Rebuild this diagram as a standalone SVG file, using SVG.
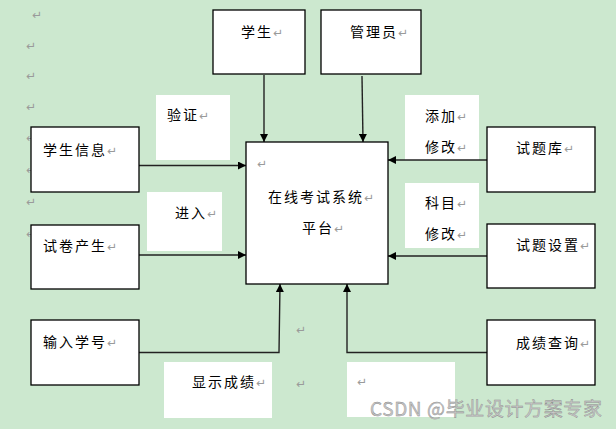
<svg xmlns="http://www.w3.org/2000/svg" width="616" height="429" viewBox="0 0 616 429">
<defs>
<style>
.box{fill:#fff;stroke:#000;stroke-width:1.3}
.lbl{fill:#fff;stroke:none}
.t{font-family:"Noto Sans CJK SC","Noto Sans",sans-serif;font-size:14px;letter-spacing:2px;fill:#000}
.r{font-family:"DejaVu Sans",sans-serif;font-size:12px;letter-spacing:0;fill:#9a9a9a}
.c{fill:none;stroke:#222;stroke-width:1.4}
.wm{font-family:"Noto Sans CJK SC","Noto Sans",sans-serif;font-size:19px;fill:#c8c8c8;stroke:#8c8c8c;stroke-width:0.4}
</style>
<marker id="ah" viewBox="0 0 10 10" refX="10" refY="5" markerWidth="8" markerHeight="8" markerUnits="userSpaceOnUse" orient="auto">
<path d="M0,0 L10,5 L0,10 Z" fill="#000"/>
</marker>
</defs>
<rect width="616" height="429" fill="#cce8cf"/>
<g id="marks">
<text class="r" x="32" y="19">↵</text>
<text class="r" x="26" y="50">↵</text>
<text class="r" x="26" y="80">↵</text>
<text class="r" x="26" y="111">↵</text>
<text class="r" x="26" y="142">↵</text>
<text class="r" x="26" y="174">↵</text>
<text class="r" x="26" y="206">↵</text>
<text class="r" x="26" y="238">↵</text>
<text class="r" x="296" y="334">↵</text>
<text class="r" x="296" y="388">↵</text>
</g>
<g id="lbl-yanzheng"><rect class="lbl" x="156" y="95" width="74" height="65"/><text class="t" x="167" y="120">验证<tspan class="r">↵</tspan></text></g>
<g id="lbl-jinru"><rect class="lbl" x="147" y="192" width="75" height="59"/><text class="t" x="175" y="218">进入<tspan class="r">↵</tspan></text></g>
<g id="lbl-tianjia"><rect class="lbl" x="405" y="95" width="74" height="65"/><text class="t" x="425" y="121">添加<tspan class="r">↵</tspan></text><text class="t" x="425" y="152">修改<tspan class="r">↵</tspan></text></g>
<g id="lbl-kemu"><rect class="lbl" x="405" y="183" width="74" height="65"/><text class="t" x="425" y="208">科目<tspan class="r">↵</tspan></text><text class="t" x="425" y="239">修改<tspan class="r">↵</tspan></text></g>
<g id="lbl-xianshi"><rect class="lbl" x="164" y="362" width="108" height="56"/><text class="t" x="192" y="387">显示成绩<tspan class="r">↵</tspan></text></g>
<g id="lbl-empty"><rect class="lbl" x="347" y="362" width="108" height="55"/><text class="r" x="357" y="386">↵</text></g>
<g id="connectors">
<path class="c" d="M264,75 V142" marker-end="url(#ah)"/>
<path class="c" d="M362,76 L363,142" marker-end="url(#ah)"/>
<path class="c" d="M139,165.5 H246" marker-end="url(#ah)"/>
<path class="c" d="M139,255 H246" marker-end="url(#ah)"/>
<path class="c" d="M487,160 H388" marker-end="url(#ah)"/>
<path class="c" d="M487,256 H388" marker-end="url(#ah)"/>
<path class="c" d="M139,352.5 H279 L280,284" marker-end="url(#ah)"/>
<path class="c" d="M487,352.5 H347 V284" marker-end="url(#ah)"/>
</g>
<g id="n-xuesheng"><rect class="box" x="213" y="10" width="92" height="64"/><text class="t" x="241" y="37">学生<tspan class="r">↵</tspan></text></g>
<g id="n-guanliyuan"><rect class="box" x="321" y="10" width="100" height="64"/><text class="t" x="350" y="37">管理员<tspan class="r">↵</tspan></text></g>
<g id="n-xueshengxinxi"><rect class="box" x="31" y="127" width="108" height="65"/><text class="t" x="43" y="155">学生信息<tspan class="r">↵</tspan></text></g>
<g id="n-shijuan"><rect class="box" x="31" y="225" width="108" height="64"/><text class="t" x="43" y="251">试卷产生<tspan class="r">↵</tspan></text></g>
<g id="n-shuru"><rect class="box" x="31" y="320" width="108" height="65"/><text class="t" x="43" y="347">输入学号<tspan class="r">↵</tspan></text></g>
<g id="n-center"><rect class="box" x="246" y="142" width="142" height="142"/><text class="r" x="257" y="168">↵</text><text class="t" x="268" y="202">在线考试系统<tspan class="r">↵</tspan></text><text class="t" x="302" y="233">平台<tspan class="r">↵</tspan></text></g>
<g id="n-tiku"><rect class="box" x="487" y="127" width="108" height="65"/><text class="t" x="516" y="153">试题库<tspan class="r">↵</tspan></text></g>
<g id="n-shezhi"><rect class="box" x="487" y="224" width="108" height="64"/><text class="t" x="516" y="250">试题设置<tspan class="r">↵</tspan></text></g>
<g id="n-chaxun"><rect class="box" x="487" y="320" width="108" height="65"/><text class="t" x="516" y="348">成绩查询<tspan class="r">↵</tspan></text></g>
<text class="wm" x="370" y="416" textLength="232" lengthAdjust="spacing">CSDN @毕业设计方案专家</text>
</svg>
